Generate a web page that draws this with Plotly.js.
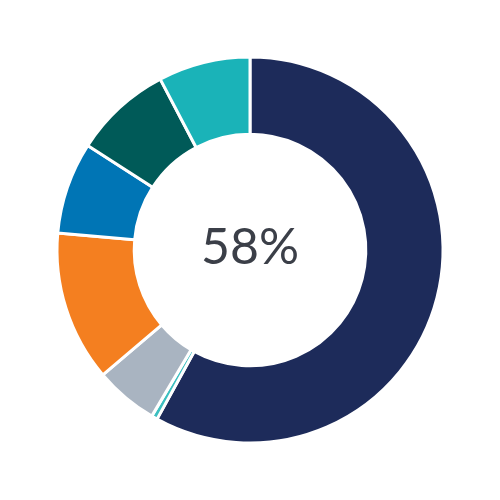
<!DOCTYPE html>
<html>
<head>
<meta charset="utf-8">
<script src="https://cdn.plot.ly/plotly-3.0.1.min.js"></script>
<style>html,body{margin:0;padding:0;background:#fff;}#chart{width:500px;height:500px;}</style>
</head>
<body>
<div id="chart"></div>
<script>
var labels = ["Navy", "Light teal", "Gray", "Orange", "Blue", "Dark green", "Teal"];
var values = [58, 0.5, 5.3, 12.6, 7.7, 8.2, 7.7];
var colors = ["#1d2b5a", "#3cbfc0", "#a9b4c1", "#f47f20", "#0075b5", "#005a58", "#1ab3b8"];
var centerText = "58%";

Plotly.newPlot("chart", [{
  type: "pie",
  labels: labels,
  values: values,
  hole: 0.6,
  sort: false,
  direction: "clockwise",
  rotation: 0,
  textinfo: "none",
  hoverinfo: "none",
  marker: {colors: colors, line: {color: "#ffffff", width: 3}}
}], {
  width: 500, height: 500,
  margin: {l: 57, r: 57, t: 57, b: 57},
  showlegend: false,
  paper_bgcolor: "#ffffff",
  annotations: [{
    text: centerText, x: 0.5, y: 0.5, xref: "paper", yref: "paper", yshift: 5,
    showarrow: false, font: {family: "Lato", size: 50, color: "#3b3f48"}
  }]
}, {displayModeBar: false, staticPlot: true});
</script>
</body>
</html>
